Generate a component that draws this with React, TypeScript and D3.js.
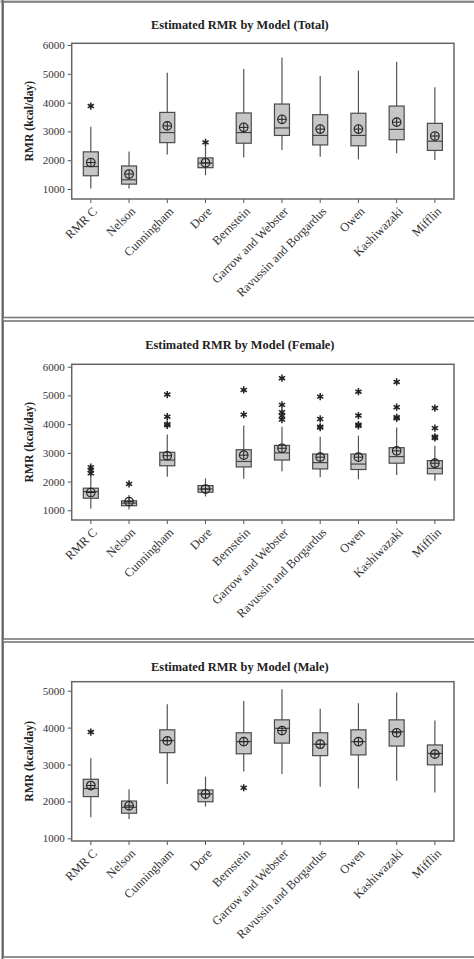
import { useEffect, useRef } from 'react'
import * as d3 from 'd3'

const models = ['RMR C', 'Nelson', 'Cunningham', 'Dore', 'Bernstein', 'Garrow and Webster', 'Ravussin and Borgardus', 'Owen', 'Kashiwazaki', 'Mifflin']

// Total
const totalLow = [1020, 1020, 2200, 1480, 2090, 2350, 2120, 2030, 2240, 2010]
const totalQ1 = [1460, 1170, 2610, 1740, 2590, 2860, 2530, 2500, 2710, 2340]
const totalMed = [1780, 1320, 2960, 1900, 2960, 3120, 2860, 2860, 3070, 2660]
const totalQ3 = [2290, 1800, 3660, 2080, 3640, 3950, 3580, 3630, 3880, 3280]
const totalHigh = [3160, 2300, 5040, 2520, 5170, 5570, 4920, 5110, 5420, 4530]
const totalMean = [1920, 1520, 3190, 1910, 3140, 3420, 3080, 3080, 3320, 2840]
const totalOut = [[3880], [], [], [2620], [], [], [], [], [], []]

// Female
const femaleLow = [1050, 1030, 2170, 1480, 2100, 2360, 2150, 2080, 2230, 2030]
const femaleQ1 = [1420, 1160, 2550, 1630, 2510, 2750, 2440, 2420, 2640, 2270]
const femaleMed = [1650, 1250, 2750, 1740, 2700, 3000, 2660, 2610, 2870, 2460]
const femaleQ3 = [1770, 1330, 3020, 1860, 3110, 3260, 2960, 2960, 3180, 2730]
const femaleHigh = [2170, 1530, 3640, 2110, 3950, 3910, 3560, 3600, 3880, 3250]
const femaleMean = [1620, 1300, 2900, 1740, 2920, 3160, 2850, 2850, 3070, 2640]
const femaleOut = [
  [2290, 2400, 2500], [1920], [3960, 4000, 4260, 5030], [], [4330, 5190],
  [4160, 4290, 4420, 4670, 5600], [3880, 3910, 4180, 4960], [3940, 3980, 4300, 5130],
  [4200, 4240, 4590, 5470], [3520, 3560, 3860, 4560],
]

// Male
const maleLow = [1570, 1520, 2470, 1860, 2810, 2740, 2400, 2350, 2560, 2240]
const maleQ1 = [2130, 1680, 3320, 1990, 3290, 3580, 3240, 3260, 3500, 2990]
const maleMed = [2350, 1840, 3650, 2200, 3620, 3980, 3550, 3620, 3890, 3300]
const maleQ3 = [2600, 2010, 3940, 2310, 3860, 4210, 3860, 3940, 4210, 3530]
const maleHigh = [3170, 2330, 4630, 2670, 4720, 5040, 4510, 4660, 4950, 4190]
const maleMean = [2430, 1880, 3640, 2200, 3620, 3920, 3550, 3620, 3860, 3280]
const maleOut = [[3880], [], [], [], [2370], [], [], [], [], []]

const ticks6 = [1000, 2000, 3000, 4000, 5000, 6000]
const ticks5 = [1000, 2000, 3000, 4000, 5000]

const panels = [
  { title: 'Estimated RMR by Model (Total)', frameTop: 2, frameBottom: 317.5, titleY: 29, top: 43.3, bottom: 199, domain: [653, 6059], ticks: ticks6,
    low: totalLow, q1: totalQ1, med: totalMed, q3: totalQ3, high: totalHigh, mean: totalMean, out: totalOut },
  { title: 'Estimated RMR by Model (Female)', frameTop: 321, frameBottom: 639, titleY: 349, top: 364.3, bottom: 520, domain: [662, 6084], ticks: ticks6,
    low: femaleLow, q1: femaleQ1, med: femaleMed, q3: femaleQ3, high: femaleHigh, mean: femaleMean, out: femaleOut },
  { title: 'Estimated RMR by Model (Male)', frameTop: 642, frameBottom: 957, titleY: 671, top: 681.7, bottom: 841, domain: [927, 5244], ticks: ticks5,
    low: maleLow, q1: maleQ1, med: maleMed, q3: maleQ3, high: maleHigh, mean: maleMean, out: maleOut },
]

const plotLeft = 71.7
const plotRight = 454
const font = '"Liberation Serif", "Times New Roman", serif'

function drawPanel(svg: any, p: any) {
  const g = svg.append('g')
  const x = d3.scaleBand().domain(models).range([plotLeft, plotRight]).padding(0)
  const y = d3.scaleLinear().domain(p.domain).range([p.bottom, p.top])
  const bw = 15

  g.append('rect')
    .attr('x', 3).attr('y', p.frameTop)
    .attr('width', 480).attr('height', p.frameBottom - p.frameTop)
    .attr('fill', '#fff').attr('stroke', '#777').attr('stroke-width', 1.6)

  g.append('text')
    .attr('x', (plotLeft + plotRight) / 2 - 23).attr('y', p.titleY)
    .attr('text-anchor', 'middle')
    .attr('font-family', font).attr('font-weight', 'bold').attr('font-size', 12.4)
    .attr('fill', '#222')
    .text(p.title)

  g.append('text')
    .attr('transform', `translate(33,${(p.top + p.bottom) / 2}) rotate(-90)`)
    .attr('text-anchor', 'middle')
    .attr('font-family', font).attr('font-weight', 'bold').attr('font-size', 11.7)
    .attr('fill', '#222')
    .text('RMR (kcal/day)')

  const yAxis = g.append('g')
    .attr('transform', `translate(${plotLeft},0)`)
    .call(d3.axisLeft(y).tickValues(p.ticks).tickSize(4).tickPadding(3).tickFormat(d3.format('d')))
  yAxis.select('.domain').remove()
  yAxis.selectAll('line').attr('stroke', '#555')
  yAxis.selectAll('text').attr('font-family', font).attr('font-size', 11).attr('fill', '#333')

  const xAxis = g.append('g')
    .attr('transform', `translate(0,${p.bottom})`)
    .call(d3.axisBottom(x).tickSize(4))
  xAxis.select('.domain').remove()
  xAxis.selectAll('line').attr('stroke', '#555')
  xAxis.selectAll('text')
    .attr('font-family', font).attr('font-size', 12.4).attr('fill', '#333')
    .attr('text-anchor', 'end')
    .attr('dy', '0.35em').attr('y', 0)
    .attr('transform', 'translate(4,10) rotate(-45)')

  const boxes = g.selectAll('g.box')
    .data(models)
    .join('g')
    .attr('class', 'box')
    .attr('transform', (d: string) => `translate(${(x(d) as number) + x.bandwidth() / 2},0)`)

  boxes.append('line')
    .attr('x1', 0).attr('x2', 0)
    .attr('y1', (d: string, i: number) => y(p.high[i]))
    .attr('y2', (d: string, i: number) => y(p.low[i]))
    .attr('stroke', '#555').attr('stroke-width', 1.2)

  boxes.append('rect')
    .attr('x', -bw / 2).attr('width', bw)
    .attr('y', (d: string, i: number) => y(p.q3[i]))
    .attr('height', (d: string, i: number) => y(p.q1[i]) - y(p.q3[i]))
    .attr('fill', '#c6c6c6').attr('stroke', '#4a4a4a').attr('stroke-width', 1.2)

  boxes.append('line')
    .attr('x1', -bw / 2).attr('x2', bw / 2)
    .attr('y1', (d: string, i: number) => y(p.med[i]))
    .attr('y2', (d: string, i: number) => y(p.med[i]))
    .attr('stroke', '#444').attr('stroke-width', 1.2)

  const mean = boxes.append('g')
    .attr('transform', (d: string, i: number) => `translate(0,${y(p.mean[i])})`)
  mean.append('circle')
    .attr('r', 4.3).attr('fill', 'none').attr('stroke', '#222').attr('stroke-width', 1.1)
  mean.append('path')
    .attr('d', 'M-4.3,0H4.3M0,-4.3V4.3')
    .attr('stroke', '#222').attr('stroke-width', 1)

  const star = d3.symbol().type(d3.symbolAsterisk).size(36)
  boxes.selectAll('path.out')
    .data((d: string, i: number) => p.out[i])
    .join('path')
    .attr('class', 'out')
    .attr('transform', (v: number) => `translate(0,${y(v)})`)
    .attr('d', star as any)
    .attr('fill', 'none').attr('stroke', '#222').attr('stroke-width', 1.5)

  g.append('rect')
    .attr('x', plotLeft).attr('y', p.top)
    .attr('width', plotRight - plotLeft).attr('height', p.bottom - p.top)
    .attr('fill', 'none').attr('stroke', '#666').attr('stroke-width', 1.5)
}

export default function App() {
  const svgRef = useRef<SVGSVGElement>(null)

  useEffect(() => {
    const svg = d3.select(svgRef.current)
    svg.selectAll('*').remove()
    svg.append('rect').attr('width', 474).attr('height', 959).attr('fill', '#fff')
    svg.append('rect').attr('width', 474).attr('height', 3).attr('fill', '#cfcfcf')
    panels.forEach(p => drawPanel(svg, p))
    svg.append('rect').attr('x', 1.5).attr('y', 0).attr('width', 2).attr('height', 959).attr('fill', '#666')
  }, [])

  return (
    <svg ref={svgRef} width={474} height={959}
      style={{ position: 'absolute', left: 0, top: 0, display: 'block' }} />
  )
}
